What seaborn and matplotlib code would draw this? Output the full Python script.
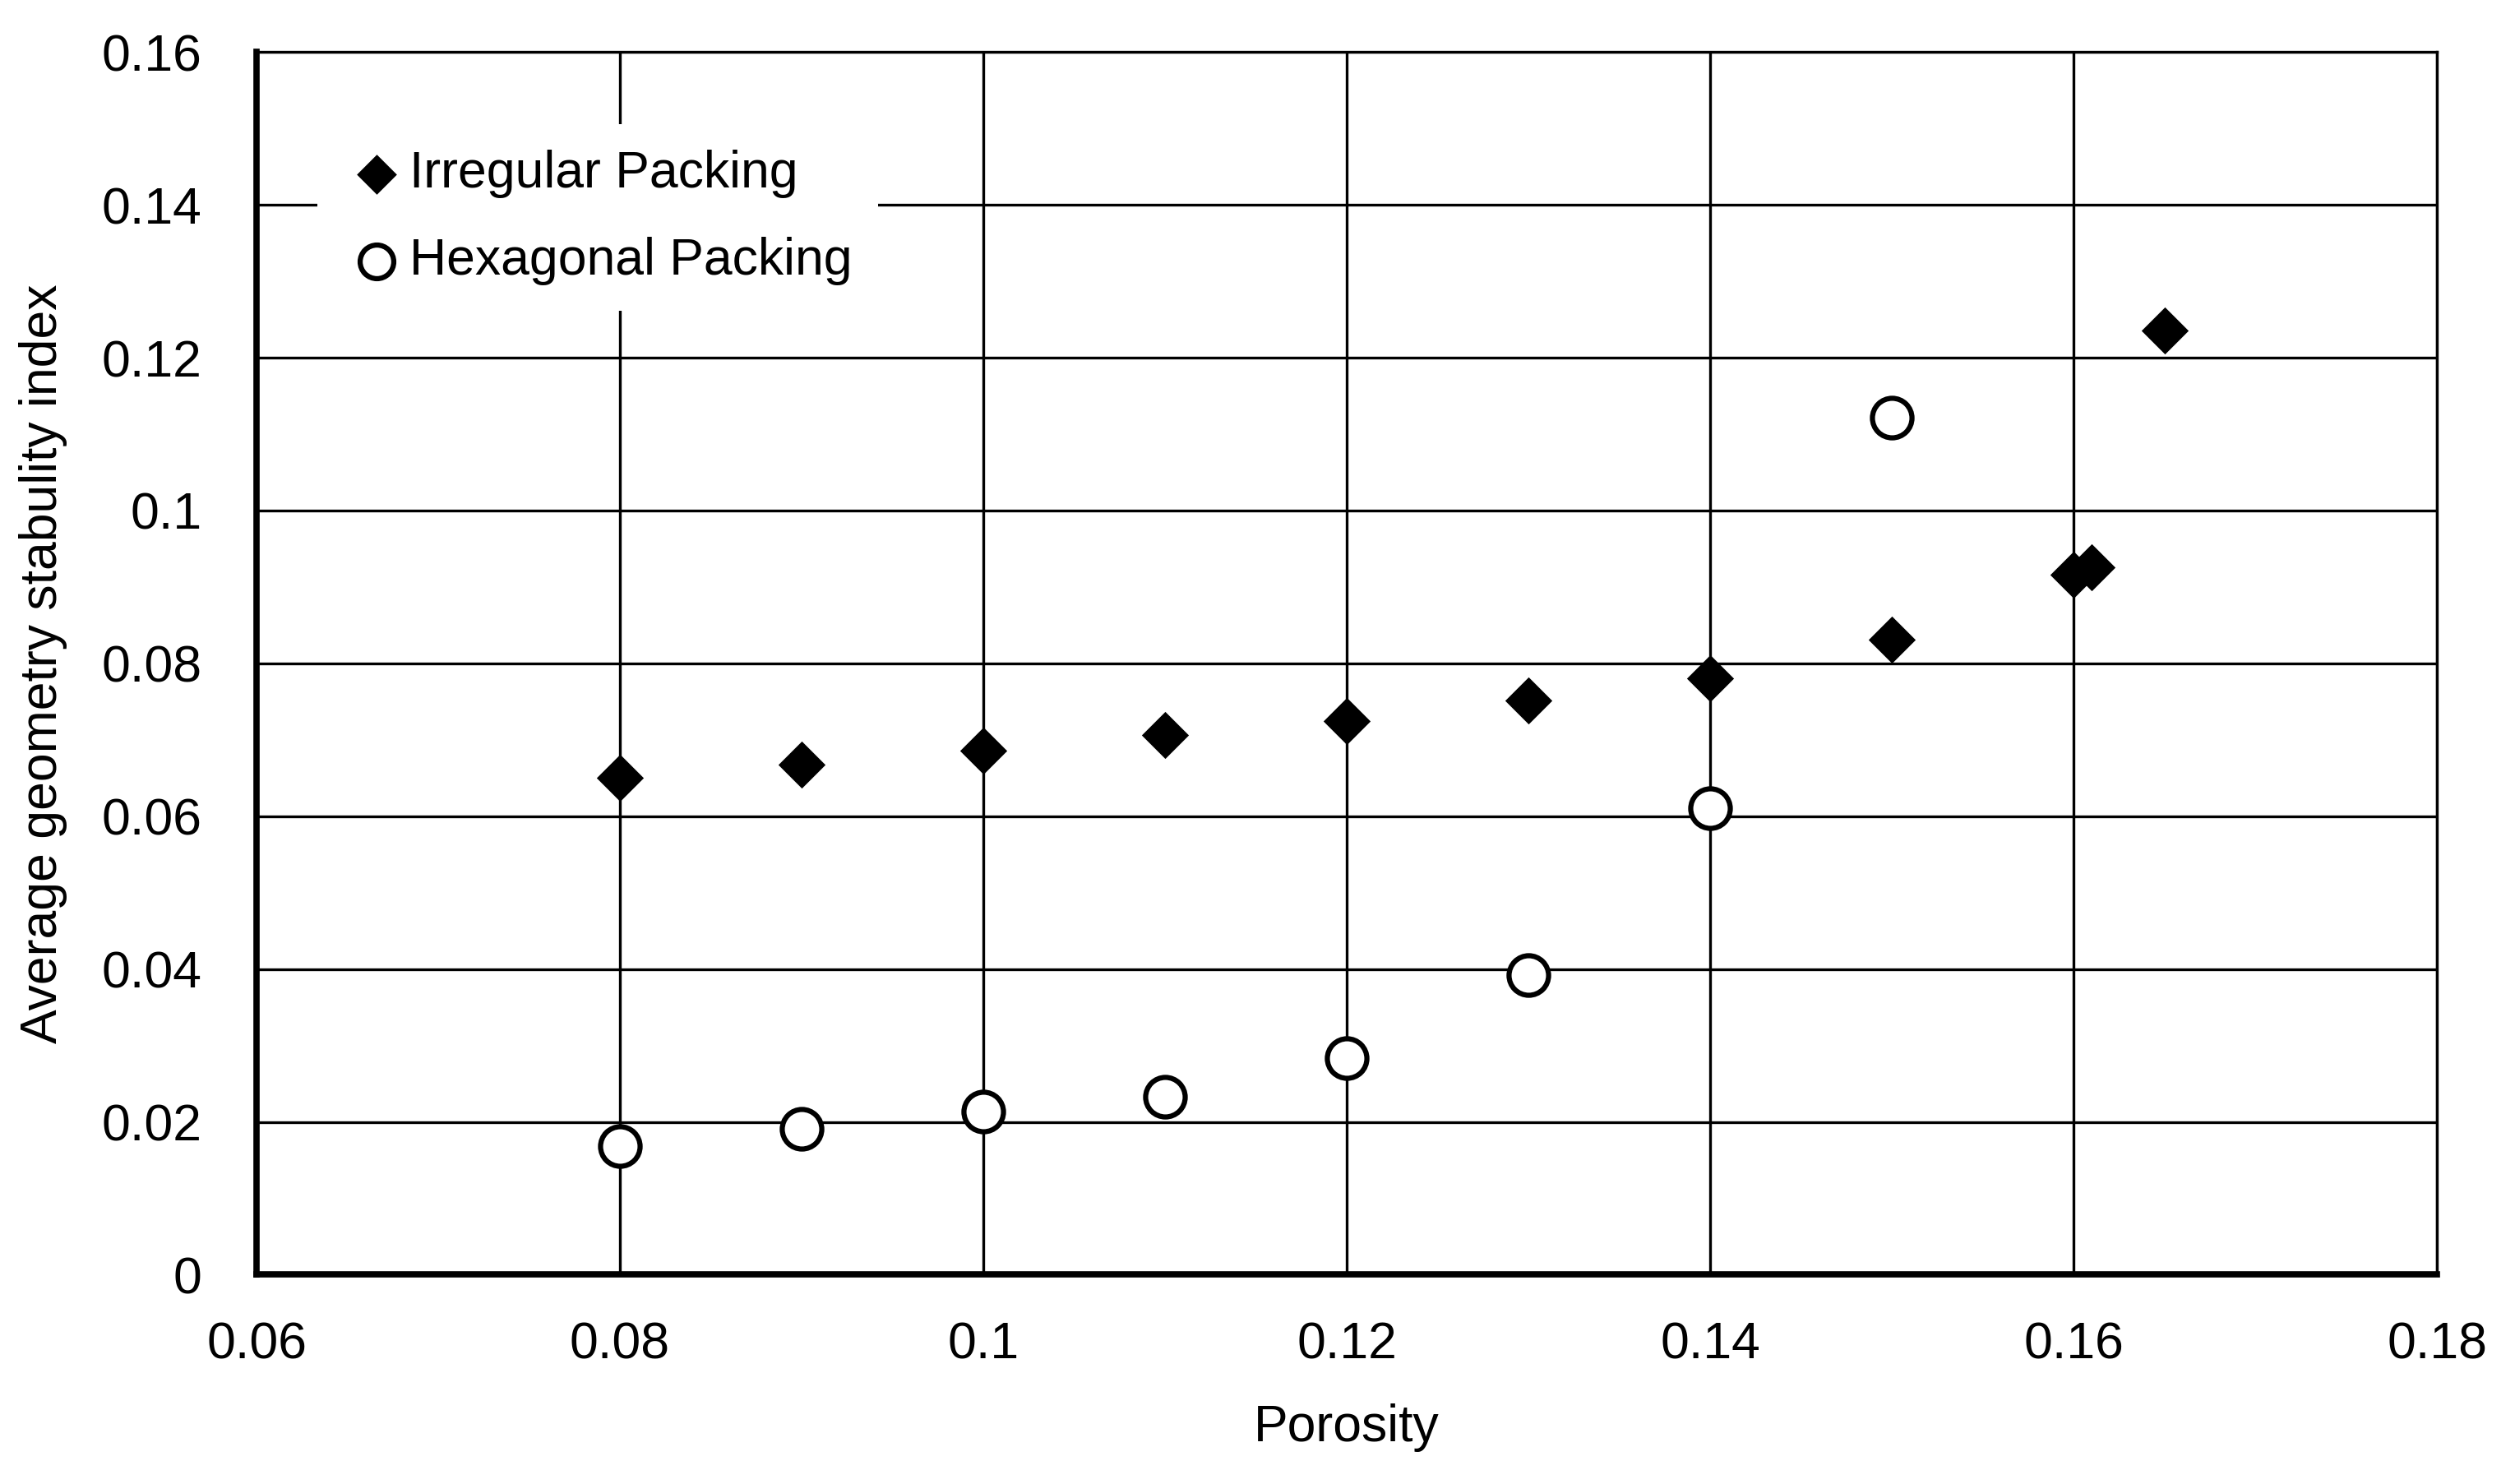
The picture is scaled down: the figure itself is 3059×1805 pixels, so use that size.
import matplotlib
matplotlib.use("Agg")
import matplotlib.pyplot as plt
import seaborn as sns
import pandas as pd
from matplotlib import font_manager

# ---- data ----
irr_porosity = [0.08, 0.09, 0.10, 0.11, 0.12, 0.13, 0.14, 0.15, 0.16, 0.161, 0.165]
irr_index = [0.065, 0.0667, 0.0686, 0.0706, 0.0724, 0.0751, 0.0780, 0.0831, 0.0916, 0.0926, 0.1235]
hex_porosity = [0.08, 0.09, 0.10, 0.11, 0.12, 0.13, 0.14, 0.15]
hex_index = [0.0168, 0.0191, 0.0213, 0.0233, 0.0283, 0.0392, 0.0610, 0.1121]
x_ticks = [0.06, 0.08, 0.10, 0.12, 0.14, 0.16, 0.18]
x_tick_labels = ["0.06", "0.08", "0.1", "0.12", "0.14", "0.16", "0.18"]
y_ticks = [0, 0.02, 0.04, 0.06, 0.08, 0.10, 0.12, 0.14, 0.16]
y_tick_labels = ["0", "0.02", "0.04", "0.06", "0.08", "0.1", "0.12", "0.14", "0.16"]
series_names = ["Irregular Packing", "Hexagonal Packing"]

sns.set_theme(style="white")
avail = {f.name for f in font_manager.fontManager.ttflist}
fam = [f for f in ["Liberation Sans Narrow", "Liberation Sans", "DejaVu Sans"] if f in avail]
plt.rcParams["font.family"] = fam

FS = 45
fig = plt.figure(figsize=(30.59, 18.05), dpi=100)
ax = fig.add_axes([0.102, 0.141, 0.867, 0.824])

df_irr = pd.DataFrame({"Porosity": irr_porosity, "Index": irr_index})
df_hex = pd.DataFrame({"Porosity": hex_porosity, "Index": hex_index})

sns.scatterplot(data=df_irr, x="Porosity", y="Index", marker="D", s=850,
                color="black", edgecolor="black", linewidth=0, ax=ax,
                label=series_names[0], zorder=3)
sns.scatterplot(data=df_hex, x="Porosity", y="Index", marker="o", s=1200,
                facecolor="white", edgecolor="black", linewidth=4.5, ax=ax,
                label=series_names[1], zorder=3)

ax.set_xlim(0.06, 0.18)
ax.set_ylim(0, 0.16)
ax.set_xticks(x_ticks)
ax.set_xticklabels(x_tick_labels)
ax.set_yticks(y_ticks)
ax.set_yticklabels(y_tick_labels)
ax.tick_params(axis="both", length=0, labelsize=FS, colors="black")
ax.tick_params(axis="y", pad=48)
ax.tick_params(axis="x", pad=40)
ax.grid(True, color="black", linewidth=2.4)
ax.set_axisbelow(True)

for side in ["left", "bottom"]:
    ax.spines[side].set_color("black")
    ax.spines[side].set_linewidth(5.5)
    ax.spines[side].set_zorder(4)
for side in ["top", "right"]:
    ax.spines[side].set_color("black")
    ax.spines[side].set_linewidth(2.4)

ax.set_xlabel("Porosity", fontsize=FS, color="black", labelpad=30)
ax.set_ylabel("Average geometry stabulity index", fontsize=FS, color="black", labelpad=30)

leg = ax.legend(loc="upper left", bbox_to_anchor=(0.016, 0.962), fontsize=FS,
                frameon=True, facecolor="white", edgecolor="none", framealpha=1,
                fancybox=False, handletextpad=0.0, labelspacing=0.75,
                borderpad=0.5, handlelength=1.3, markerscale=0.85)
leg.set_zorder(5)
for t in leg.get_texts():
    t.set_color("black")

fig.savefig("out.png", dpi=100, facecolor="white")
